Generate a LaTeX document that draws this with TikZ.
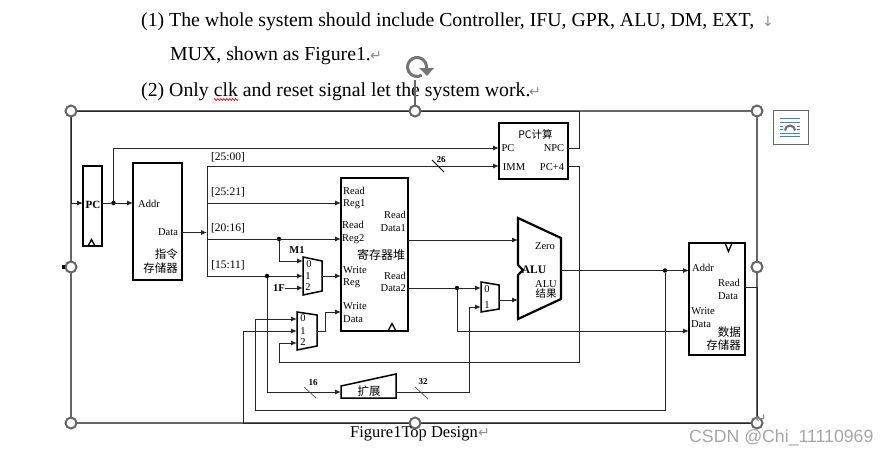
\documentclass[tikz,border=0pt]{standalone}
\usepackage{fontspec}
\setmainfont{Liberation Serif}
\newfontfamily\cjk{Noto Sans CJK SC}
\newfontfamily\dv{DejaVu Sans}
\newfontfamily\wm{Liberation Sans}
\usetikzlibrary{arrows.meta,decorations.pathmorphing}
\definecolor{fr}{HTML}{666666}
\definecolor{wd}{HTML}{2E75B6}
\tikzset{
  wire/.style={draw=black!85,line width=1pt},
  arw/.style={wire,-{Latex[length=6pt,width=5pt]}},
  blk/.style={draw=black,line width=2.1pt,fill=white,inner sep=0pt,outer sep=0pt},
  thin slash/.style={draw=black!70,line width=0.7pt},
  dotn/.style={circle,fill=black,inner sep=0pt,minimum size=4.5pt},
  lbl/.style={inner sep=0pt,font=\fontsize{10.5}{10.5}\selectfont},
  bld/.style={inner sep=0pt,font=\fontsize{10.5}{10.5}\selectfont\bfseries},
  hz/.style={inner sep=0pt,font=\fontsize{11.5}{11.5}\cjk},
  tiny num/.style={inner sep=0pt,font=\fontsize{9.5}{9.5}\selectfont},
  body/.style={inner sep=0pt,anchor=base west,font=\fontsize{19.8}{20}\selectfont},
  ret/.style={inner sep=0pt,anchor=base west,text=black!45,font=\fontsize{14}{14}\dv},
  handle/.style={circle,draw=fr,line width=2pt,fill=white,minimum size=11pt,inner sep=0pt,outer sep=0pt},
}
\begin{document}
\begin{tikzpicture}[x=1pt,y=-1pt]
\useasboundingbox (0,0) rectangle (889,455);
% Word text above
\node[body] (t1) at (141,27) {(1) The whole system should include Controller, IFU, GPR, ALU, DM, EXT,};
\node[ret] (t1a) at (762,26) {\char"2193};
\node[body] (t2) at (170,60) {MUX, shown as Figure1.};
\node[ret] (t2a) at (370,60) {\char"21B5};
\node[body] (t3) at (141,96) {(2) Only clk and reset signal let the system work.};
\node[ret] (t3a) at (529,96) {\char"21B5};
\coordinate (sqa) at (214,99.5); \coordinate (sqb) at (238,99.5);
\draw[red!85!black,line width=0.7pt,decorate,decoration={zigzag,segment length=3pt,amplitude=0.9pt}] (sqa) -- (sqb);
% frame
\coordinate (c1) at (71,111); \coordinate (c2) at (415,111); \coordinate (c3) at (757,111);
\coordinate (c4) at (71,267); \coordinate (c5) at (757,267);
\coordinate (c6) at (71,423); \coordinate (c7) at (415,423); \coordinate (c8) at (757,423);
\coordinate (rot) at (415,80);
\draw[fr,line width=1.2pt] (c1) -- (c3) -- (c8) -- (c6) -- cycle;
\draw[fr,line width=1.2pt] (rot) -- (c2);
% blocks
\node[blk,minimum width=19pt,minimum height=80pt] (pc) at (92.5,206) {};
\node[blk,minimum width=49pt,minimum height=117pt] (im) at (157.5,221.5) {};
\node[blk,minimum width=69pt,minimum height=56pt] (npc) at (533.5,151) {};
\node[blk,minimum width=67pt,minimum height=153pt] (rf) at (374.5,254.5) {};
\node[blk,minimum width=56pt,minimum height=112pt] (dm) at (717,299) {};
% ports
\coordinate (pcin) at (pc.west |- 0,203); \coordinate (pcout) at (pc.east |- 0,203);
\coordinate (imaddr) at (im.west |- 0,203); \coordinate (imdata) at (im.east |- 0,232.5);
\coordinate (npcpc) at (npc.west |- 0,148); \coordinate (npcimm) at (npc.west |- 0,166);
\coordinate (npcout) at (npc.east |- 0,148); \coordinate (npc4) at (npc.east |- 0,166);
\coordinate (rr1) at (rf.west |- 0,203); \coordinate (rr2) at (rf.west |- 0,239);
\coordinate (rw) at (rf.west |- 0,276); \coordinate (rwd) at (rf.west |- 0,312);
\coordinate (rd1) at (rf.east |- 0,240); \coordinate (rd2) at (rf.east |- 0,288);
\coordinate (dmaddr) at (dm.west |- 0,270.5); \coordinate (dmwd) at (dm.west |- 0,331);
\coordinate (dmrd) at (dm.east |- 0,287);
\coordinate (busin) at (207,232.5); \coordinate (bustop) at (207,166); \coordinate (busbot) at (207,276);
% muxes, ALU, extender
\draw[blk,line width=1.5pt] (303,257) -- (322,261) -- (322,291) -- (303,295) -- cycle;
\draw[blk,line width=1.5pt] (297,312) -- (317,315) -- (317,346) -- (297,350) -- cycle;
\draw[blk,line width=1.5pt] (481,282) -- (499,285) -- (499,309) -- (481,312) -- cycle;
\draw[blk,line width=2.2pt] (518,218) -- (561,238) -- (561,299) -- (518,319) -- (518,275) -- (523,270) -- (518,265) -- cycle;
\draw[blk,line width=1.5pt] (341,386) -- (396,374) -- (396,398) -- (341,398) -- cycle;
\coordinate (m1a) at (303,261); \coordinate (m1b) at (303,276); \coordinate (m1c) at (303,288); \coordinate (m1o) at (322,276);
\coordinate (m2a) at (297,319); \coordinate (m2b) at (297,331); \coordinate (m2c) at (297,343); \coordinate (m2o) at (317,331);
\coordinate (m3a) at (481,288); \coordinate (m3b) at (481,307); \coordinate (m3o) at (499,300);
\coordinate (alua) at (518,240); \coordinate (alub) at (518,300); \coordinate (aluo) at (561,270.5);
\coordinate (exi) at (341,392); \coordinate (exo) at (396,392);
% clock triangles
\draw[black,line width=1.3pt] (88,246) -- (91.5,239.5) -- (95,246);
\draw[black,line width=1.3pt] (388,331) -- (392,323.5) -- (396,331);
\draw[black,line width=1.3pt] (725,243) -- (728.5,251.5) -- (732,243);
% junctions
\node[dotn] (j1) at (113.5,203) {};
\node[dotn] (j2) at (279,239) {};
\node[dotn] (j3) at (267,276) {};
\node[dotn] (j4) at (457,288) {};
\node[dotn] (j5) at (665,270.5) {};
\node[bld] (l1f) at (279,288) {1F};
% wires
\draw[arw] (c4 |- pcin) -- (pcin);
\draw[arw] (pcout) -- (imaddr);
\draw[arw] (j1) |- (npcpc);
\draw[wire] (npcout) -| (579,111) -- (c1) -- (c4 |- pcin);
\draw[arw] (imdata) -- (busin);
\draw[wire] (bustop) -- (busbot);
\draw[arw] (bustop) -- (npcimm);
\draw[arw] (bustop |- rr1) -- (rr1);
\draw[arw] (busin |- rr2) -- (rr2);
\draw[wire] (busbot) -- (j3);
\draw[arw] (j3) -- (m1b);
\draw[arw] (j2) |- (m1a);
\draw[arw] (l1f) -- (m1c);
\draw[arw] (m1o) -- (rw);
\draw[arw] (j3) |- (exi);
\draw[arw] (m2o) -- (325,331) |- (rwd);
\draw[arw] (rd1) -- (alua);
\draw[arw] (rd2) -- (m3a);
\draw[arw] (m3o) -- (alub);
\draw[arw] (exo) -- (469,392) |- (m3b);
\draw[arw] (j4) |- (dmwd);
\draw[arw] (aluo) -- (dmaddr);
\draw[arw] (j5) |- (255,410) |- (m2a);
\draw[arw] (dmrd) -- (757,287) |- (243,423) |- (m2b);
\draw[arw] (npc4) -- (579,166) |- (279,362) |- (m2c);
% bus slashes
\coordinate (s1a) at (304,387); \coordinate (s1b) at (316,398);
\coordinate (s2a) at (415,387); \coordinate (s2b) at (428,399);
\coordinate (s3a) at (432,160); \coordinate (s3b) at (444,172);
\draw[thin slash] (s1a) -- (s1b);
\draw[thin slash] (s2a) -- (s2b);
\draw[black,line width=0.9pt] (s3a) -- (s3b);
\node[tiny num,font=\fontsize{9}{9}\selectfont\bfseries] (n16) at (313,383) {16};
\node[tiny num,font=\fontsize{9}{9}\selectfont\bfseries] (n32) at (423,382) {32};
\node[tiny num,font=\fontsize{9}{9}\selectfont\bfseries] (n26) at (441,160) {26};
% bus labels
\node[lbl,font=\fontsize{11.5}{11.5}\selectfont] (b1) at (228,157) {[25:00]};
\node[lbl,font=\fontsize{11.5}{11.5}\selectfont] (b2) at (228,192) {[25:21]};
\node[lbl,font=\fontsize{11.5}{11.5}\selectfont] (b3) at (228,228) {[20:16]};
\node[lbl,font=\fontsize{11.5}{11.5}\selectfont] (b4) at (228,265) {[15:11]};
% block labels
\node[bld,font=\fontsize{11}{11}\selectfont\bfseries] (lpc) at (93,205) {PC};
\node[lbl] (la) at (149,204) {Addr};
\node[lbl] (ld) at (168,232) {Data};
\node[hz,anchor=east] (lz1) at (178,254) {指令};
\node[hz,anchor=east] (lz2) at (178,268) {存储器};
\node[bld] (lm1) at (297,250) {M1};
\node[lbl] (m10) at (309,264) {0};
\node[lbl] (m11) at (308,276) {1};
\node[lbl] (m12) at (308,287) {2};
\node[lbl] (m20) at (303,318) {0};
\node[lbl] (m21) at (303,331) {1};
\node[lbl] (m22) at (303,342) {2};
\node[lbl,anchor=west] (r1) at (343,191) {Read};
\node[lbl,anchor=west] (r2) at (343,204) {Reg1};
\node[lbl,anchor=west] (r3) at (342,225) {Read};
\node[lbl,anchor=west] (r4) at (342,239) {Reg2};
\node[lbl,anchor=west] (r5) at (343,270) {Write};
\node[lbl,anchor=west] (r6) at (343,283) {Reg};
\node[lbl,anchor=west] (r7) at (343,306) {Write};
\node[lbl,anchor=west] (r8) at (343,319) {Data};
\node[lbl,anchor=east] (r9) at (406,215) {Read};
\node[lbl,anchor=east] (r10) at (406,228) {Data1};
\node[lbl,anchor=east] (r11) at (406,276) {Read};
\node[lbl,anchor=east] (r12) at (406,288) {Data2};
\node[hz,font=\fontsize{12}{12}\cjk] (rz) at (381,255) {寄存器堆};
\node[lbl,font=\fontsize{10.5}{10.5}\cjk] (pcc) at (535.5,134) {PC计算};
\node[lbl] (pa) at (508,148) {PC};
\node[lbl] (pb) at (554,148) {NPC};
\node[lbl] (pd) at (514,167) {IMM};
\node[lbl] (pe) at (552,167) {PC+4};
\node[lbl] (az) at (545,246) {Zero};
\node[bld,font=\fontsize{11.5}{11.5}\selectfont\bfseries] (aa) at (534,270) {ALU};
\node[lbl] (ab) at (546,284) {ALU};
\node[hz,font=\fontsize{10.5}{10.5}\cjk] (ac) at (546,293.5) {结果};
\node[lbl] (m30) at (487,289) {0};
\node[lbl] (m31) at (487,305) {1};
\node[hz] (ez) at (369,391) {扩展};
\node[lbl] (d1) at (703,268) {Addr};
\node[lbl] (d2) at (729,283) {Read};
\node[lbl] (d3) at (728,296) {Data};
\node[lbl] (d4) at (703,311) {Write};
\node[lbl] (d5) at (701,324) {Data};
\node[hz,anchor=east] (d6) at (741,332) {数据};
\node[hz,anchor=east] (d7) at (741,345) {存储器};
% handles
\foreach \c in {c1,c2,c3,c4,c5,c6,c7,c8} \node[handle] at (\c) {};
\fill[black] (62,265) rectangle (65,269);
% rotate handle
\draw[fr!90,line width=3pt] (421.75,75.2) arc[start angle=60,end angle=370,radius=9.5];
\fill[fr!90] (419,68) -- (434,68) -- (427,76) -- cycle;
% layout icon
\draw[fr,fill=white,line width=1pt] (773,110.5) rectangle (808,144);
\foreach \yy in {118,122,133,136.5} \draw[wd!90,line width=0.8pt] (780,\yy) -- (800,\yy);
\foreach \yy in {126,129.5} {\draw[wd!90,line width=0.8pt] (780,\yy) -- (783,\yy); \draw[wd!90,line width=0.8pt] (797,\yy) -- (800,\yy);}
\draw[black!55,line width=2.2pt] (785,130.5) arc[start angle=180,end angle=360,radius=5];
% caption
\node[inner sep=0pt,anchor=base west,font=\fontsize{16.5}{17}\selectfont] (cap) at (350,437) {Figure1Top Design};
\node[ret] (capa) at (478,437) {\char"21B5};
\node[ret] (enda) at (755,423) {\char"21B5};
% watermark
\node[inner sep=0pt,anchor=base west,text=black!35,font=\fontsize{17.7}{18}\wm] (wm) at (689,442) {CSDN @Chi\_11110969};
\end{tikzpicture}
\end{document}
